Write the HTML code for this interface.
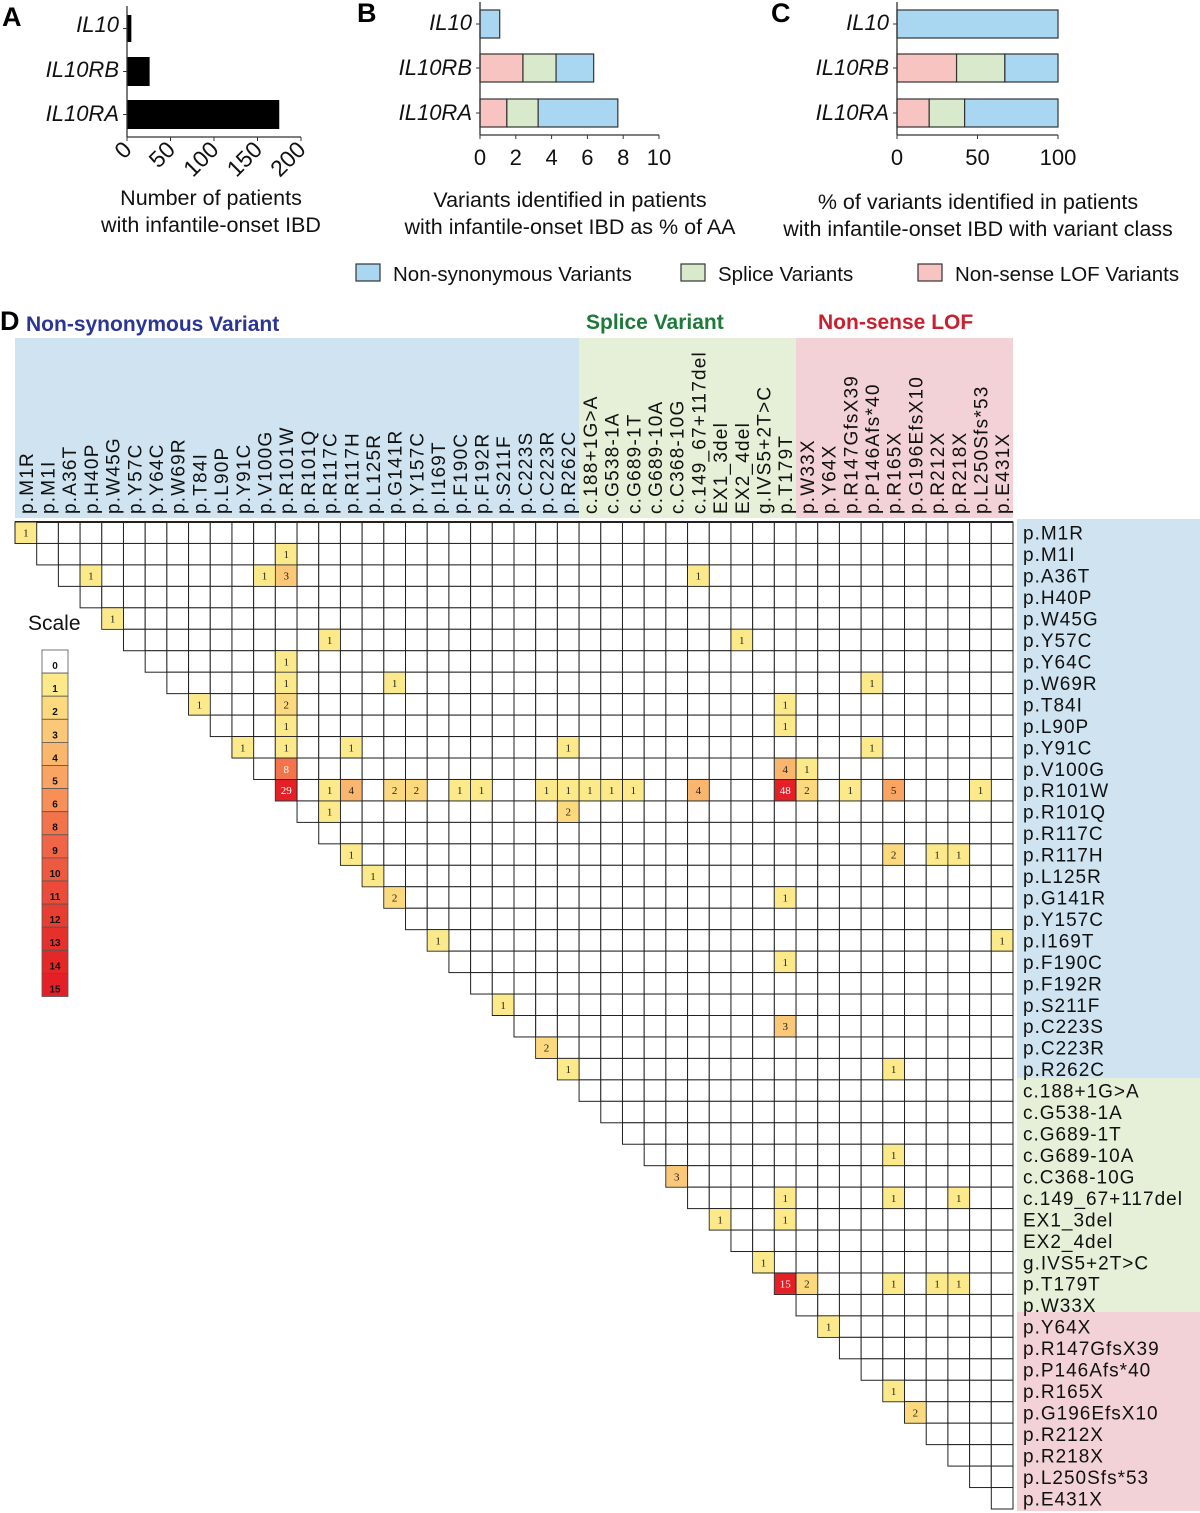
<!DOCTYPE html>
<html><head><meta charset="utf-8"><style>
html,body{margin:0;padding:0;background:#fff}
svg{display:block;font-family:"Liberation Sans",Arial,sans-serif}
</style></head><body>
<svg id="fig" width="1200" height="1513" viewBox="0 0 1200 1513">
<g id="topPanels"></g>
<g id="heat"></g>
</svg>
<script>
const NS='http://www.w3.org/2000/svg';
function mk(tag,attrs,parent,text){const e=document.createElementNS(NS,tag);for(const k in attrs)e.setAttribute(k,attrs[k]);if(text!==undefined)e.textContent=text;parent.appendChild(e);return e;}

// ---- Top bar chart data ----
const genes=['IL10','IL10RB','IL10RA'];
const patientCounts=[5,26,175];
const aTicks=[0,50,100,150,200];
const bPink=[0,2.4,1.5];
const bGreen=[0,1.85,1.75];
const bBlue=[1.1,2.1,4.45];
const bTicks=[0,2,4,6,8,10];
const cPink=[0,37,20];
const cGreen=[0,30,22];
const cBlue=[100,33,58];
const cTicks=[0,50,100];

// ---- Heatmap data ----
const colLabels=['p.M1R','p.M1I','p.A36T','p.H40P','p.W45G','p.Y57C','p.Y64C','p.W69R','p.T84I','p.L90P','p.Y91C','p.V100G','p.R101W','p.R101Q','p.R117C','p.R117H','p.L125R','p.G141R','p.Y157C','p.I169T','p.F190C','p.F192R','p.S211F','p.C223S','p.C223R','p.R262C','c.188+1G>A','c.G538-1A','c.G689-1T','c.G689-10A','c.C368-10G','c.149_67+117del','EX1_3del','EX2_4del','g.IVS5+2T>C','p.T179T','p.W33X','p.Y64X','p.R147GfsX39','p.P146Afs*40','p.R165X','p.G196EfsX10','p.R212X','p.R218X','p.L250Sfs*53','p.E431X'];
const rowLabels=colLabels;
const cellRows=[0,1,2,2,2,2,4,5,5,6,7,7,7,8,8,8,9,9,10,10,10,10,10,11,11,11,
12,12,12,12,12,12,12,12,12,12,12,12,12,12,12,12,12,12,
13,13,15,15,15,15,16,17,17,19,19,20,22,23,24,25,25,29,30,31,31,31,32,32,34,35,35,35,35,35,37,40,41];
const cellCols=[0,12,3,11,12,31,4,14,33,12,12,17,39,8,12,35,12,35,10,12,15,25,39,12,35,36,
12,14,15,17,18,20,21,24,25,26,27,28,31,35,36,38,40,44,
14,25,15,40,42,43,16,17,35,19,45,35,22,35,24,25,40,40,30,35,40,43,32,35,34,35,36,40,42,43,37,40,41];
const cellValues=[1,1,1,1,3,1,1,1,1,1,1,1,1,1,2,1,1,1,1,1,1,1,1,8,4,1,
29,1,4,2,2,1,1,1,1,1,1,1,4,48,2,1,5,1,
1,2,1,2,1,1,1,2,1,1,1,1,1,3,2,1,1,1,3,1,1,1,1,1,1,15,2,1,1,1,1,1,2];
const scaleValues=[0,1,2,3,4,5,6,8,9,10,11,12,13,14,15];
const scaleColors=['#ffffff','#fbe98a','#fcd97c','#fbc877','#fab66c','#f9a462','#f78f57','#f3744b','#f06545','#ed5a3f','#eb4b38','#e83e32','#e5302c','#e42828','#e41f25'];

const topG=document.getElementById('topPanels');
const FS=22;
function label(x,y,t,name,opts){const e=mk('text',Object.assign({x:x,y:y,'font-size':FS,fill:'#111'},opts||{}),topG,t);return e;}

[['A',2,26],['B',357,22],['C',771,22]].forEach(p=>{const t=mk('text',{x:p[1],y:p[2],'font-size':27,'font-weight':'bold',fill:'#000'},topG,p[0]);});

const barY=[[15,42],[57,86],[100,129]];
const bY=[[10,38],[54,82],[99,127]];
const labA=[32,77,121];
const labB=[30,75,120];

// Panel A
(function(){
 const x0=127,x1=301,max=200,ax=137;const sx=v=>x0+(v/max)*(x1-x0);
 genes.forEach((g,i)=>{label(119,labA[i],g,'gene-label-a-'+g.toLowerCase(),{'text-anchor':'end','font-style':'italic'});
  const r=mk('rect',{x:x0,y:barY[i][0],width:sx(patientCounts[i])-x0,height:barY[i][1]-barY[i][0],fill:'#000'},topG);
  
  
  mk('line',{x1:x0-4,x2:x0,y1:(barY[i][0]+barY[i][1])/2,y2:(barY[i][0]+barY[i][1])/2,stroke:'#333'},topG);});
 mk('line',{x1:x0,x2:x0,y1:6,y2:ax,stroke:'#333','stroke-width':1.3},topG);
 mk('line',{x1:x0,x2:x1,y1:ax,y2:ax,stroke:'#333','stroke-width':1.3},topG);
 aTicks.forEach(t=>{const x=sx(t);mk('line',{x1:x,x2:x,y1:ax,y2:ax+4,stroke:'#333'},topG);
  label(x+6,151,String(t),'x-tick-a-'+t,{'text-anchor':'end','font-size':23,transform:'rotate(-45 '+(x+6)+' 151)'});});
 label(211,205,'Number of patients','x-axis-title-a',{'text-anchor':'middle','font-size':21.5});
 label(211,232,'with infantile-onset IBD','x-axis-title-a-2',{'text-anchor':'middle','font-size':21.5});
})();

function stacked(x0,x1,max,ticks,pink,green,blue,pfx,tx,titles){
 const ax=135;const sx=v=>x0+(v/max)*(x1-x0);
 genes.forEach((g,i)=>{label(x0-8,labB[i],g,'gene-label-'+pfx+'-'+g.toLowerCase(),{'text-anchor':'end','font-style':'italic'});
  let acc=0;[[pink[i],'#f8c4c2','pink'],[green[i],'#d9e9cc','green'],[blue[i],'#a9d6f0','blue']].forEach(s=>{
   if(s[0]<=0)return;const r=mk('rect',{x:sx(acc),y:bY[i][0],width:sx(acc+s[0])-sx(acc),height:bY[i][1]-bY[i][0],fill:s[1],stroke:'#333','stroke-width':1.2},topG);
   
   
   acc+=s[0];});
  mk('line',{x1:x0-4,x2:x0,y1:(bY[i][0]+bY[i][1])/2,y2:(bY[i][0]+bY[i][1])/2,stroke:'#333'},topG);});
 mk('line',{x1:x0,x2:x0,y1:2,y2:ax,stroke:'#333','stroke-width':1.3},topG);
 mk('line',{x1:x0,x2:x1,y1:ax,y2:ax,stroke:'#333','stroke-width':1.3},topG);
 ticks.forEach(t=>{const x=sx(t);mk('line',{x1:x,x2:x,y1:ax,y2:ax+4,stroke:'#333'},topG);label(x,165,String(t),'x-tick-'+pfx+'-'+t,{'text-anchor':'middle'});});
 label(tx,titles[2],titles[0],'x-axis-title-'+pfx,{'text-anchor':'middle','font-size':21.5});
 label(tx,titles[2]+27,titles[1],'x-axis-title-'+pfx+'-2',{'text-anchor':'middle','font-size':21.5});
}
stacked(480,659,10,bTicks,bPink,bGreen,bBlue,'b',570,['Variants identified in patients','with infantile-onset IBD as % of AA',207]);
stacked(897,1058,100,cTicks,cPink,cGreen,cBlue,'c',978,['% of variants identified in patients','with infantile-onset IBD with variant class',209]);

[[356,'#a9d6f0','Non-synonymous Variants','legend-nonsyn'],[681,'#d9e9cc','Splice Variants','legend-splice'],[918,'#f8c4c2','Non-sense LOF Variants','legend-lof']].forEach(l=>{
 const g=mk('g',{},topG);
 
 
 mk('rect',{x:l[0],y:264,width:24,height:17,fill:l[1],stroke:'#333','stroke-width':1.2},g);
 mk('text',{x:l[0]+37,y:281,'font-size':20.5,fill:'#111'},g,l[2]);});

// ---- Heatmap ----
const H=document.getElementById('heat');
const n=colLabels.length;const gx0=15,gx1=1013,gy0=522,gy1=1509;
const cw=(gx1-gx0)/n,rh=(gy1-gy0)/n;
const cx=c=>gx0+c*cw, ry=r=>gy0+r*rh;
function colorOf(v){let col=scaleColors[0];for(let i=0;i<scaleValues.length;i++){if(v>=scaleValues[i])col=scaleColors[i];}return col;}

let tt=mk('text',{x:0,y:330,'font-size':27,'font-weight':'bold',fill:'#000'},H,'D');


[[26,331,'#2b3595','Non-synonymous Variant','group-title-nonsyn'],[586,329,'#1d7a3a','Splice Variant','group-title-splice'],[818,329,'#c8202f','Non-sense LOF','group-title-lof']].forEach(g=>{
 const e=mk('text',{x:g[0],y:g[1],'font-size':21,'font-weight':'bold',fill:g[2]},H,g[3]);
 
 });
[[0,26,'#cfe3f1','header-band-nonsyn'],[26,36,'#e6f0d8','header-band-splice'],[36,46,'#f2d2d6','header-band-lof']].forEach(b=>{
 const r=mk('rect',{x:cx(b[0]),y:338,width:cx(b[1])-cx(b[0]),height:180,fill:b[2]},H);
 
 });
[[519,1078,'#cfe3f1','row-band-nonsyn'],[1078,1312,'#e6f0d8','row-band-splice'],[1312,1511,'#f2d2d6','row-band-lof']].forEach(b=>{
 const r=mk('rect',{x:1017,y:b[0],width:183,height:b[1]-b[0],fill:b[2]},H);
 
 });
colLabels.forEach((l,c)=>{const x=cx(c)+cw/2+7,y=514;
 const e=mk('text',{x:x,y:y,'font-size':19,fill:'#111',transform:'rotate(-90 '+x+' '+y+')','letter-spacing':'1.2'},H,l);
 
 });
rowLabels.forEach((l,r)=>{const e=mk('text',{x:1023,y:ry(r)+rh/2+7,'font-size':19,fill:'#111','letter-spacing':'1'},H,l);
 
 });
const grid=mk('g',{},H);


for(let r=0;r<n;r++){for(let c=r;c<n;c++){mk('rect',{x:cx(c),y:ry(r),width:cw,height:rh,fill:'#fff',stroke:'#222','stroke-width':1},grid);}}
mk('line',{x1:gx0,x2:gx1,y1:gy0,y2:gy0,stroke:'#222','stroke-width':2},H);
cellValues.forEach((v,i)=>{const r=cellRows[i],c=cellCols[i];
 const rect=mk('rect',{x:cx(c)+0.5,y:ry(r)+0.5,width:cw-1,height:rh-1,fill:colorOf(v)},H);
 
 
 const tx=mk('text',{x:cx(c)+cw/2,y:ry(r)+rh/2+4,'font-size':11,'font-family':'Liberation Serif, serif','text-anchor':'middle',fill:v>=8?'#fff':'#222'},H,String(v));
 
 });
tt=mk('text',{x:28,y:630,'font-size':21,fill:'#111'},H,'Scale');


scaleValues.forEach((v,i)=>{const y=650+i*23.1;
 const r=mk('rect',{x:42,y:y,width:26,height:23.1,fill:scaleColors[i],stroke:'#555','stroke-width':0.8},H);
 
 
 const e=mk('text',{x:55,y:y+19,'font-size':10,'font-weight':'bold','text-anchor':'middle',fill:'#111'},H,String(v));
 
 });
</script>
</body></html>
